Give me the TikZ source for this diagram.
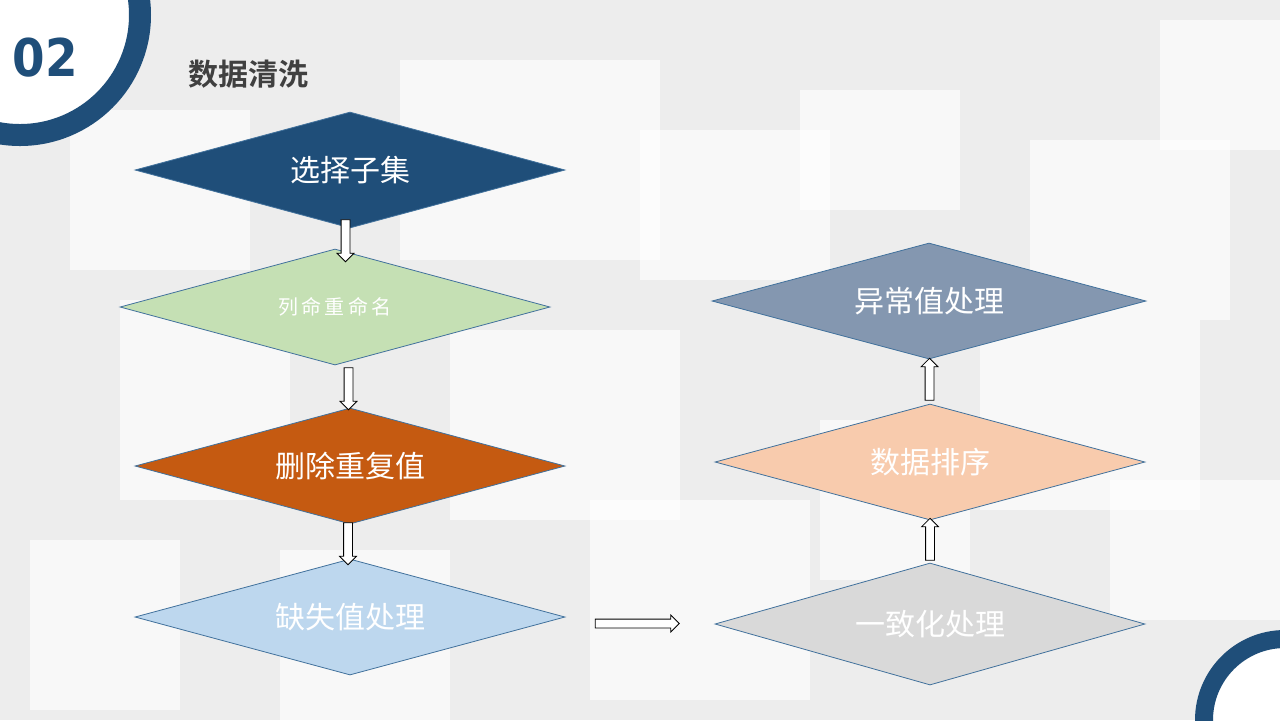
\documentclass[tikz,border=0pt]{standalone}
\usepackage{fontspec}
\newfontfamily\cjk[BoldFont={* Bold}]{Noto Sans CJK SC}
\newfontfamily\numfont{DejaVu Sans Condensed}
\usetikzlibrary{shapes.geometric,shapes.arrows,calc}

\definecolor{navy}{HTML}{1F4E79}
\definecolor{leaf}{HTML}{C5E0B4}
\definecolor{rust}{HTML}{C55A11}
\definecolor{sky}{HTML}{BDD7EE}
\definecolor{ash}{HTML}{D9D9D9}
\definecolor{peach}{HTML}{F8CBAD}
\definecolor{slate}{HTML}{8497B0}
\definecolor{edge}{HTML}{41719C}

\tikzset{
    stepbox/.style={diamond, aspect=3.7, draw=edge, line width=.4pt, inner sep=0pt,
        minimum width=215pt, minimum height=58pt, text=white,
        font=\cjk\fontsize{15}{18}\selectfont},
    blockarr/.style={single arrow, draw=black, fill=white, line width=.4pt,
        minimum height=21pt, single arrow head extend=2pt,
        inner sep=2pt},
}

\begin{document}
\begin{tikzpicture}[x=0.5pt,y=-0.5pt]

    \useasboundingbox (0,0) rectangle (1280,720);
    \clip (0,0) rectangle (1280,720);
    \fill[gray!14] (0,0) rectangle (1280,720);

    % background tiles
    \foreach \x/\y/\w/\h in {70/110/180/160, 400/60/260/200, 640/130/190/150,
        800/90/160/120, 1030/140/200/180, 120/300/170/200, 450/330/230/190,
        590/500/220/200, 980/320/220/190, 30/540/150/170, 1160/20/120/130,
        280/550/170/170, 820/420/150/160, 1110/480/170/140} {
        \fill[white,opacity=.65] (\x,\y) rectangle ++(\w,\h);
    }

    % corner rings
    \fill[white] (20,15) circle (120);
    \draw[navy,line width=11pt] (20,15) circle (120);
    \fill[white] (1285,720) circle (81);
    \draw[navy,line width=9pt] (1285,720) circle (81);

    \node[text=navy,font=\numfont\bfseries\fontsize{26}{28}\selectfont] (num) at (45,58) {02};
    \node[text=black!75,font=\cjk\bfseries\fontsize{15}{18}\selectfont] (title) at (248,74) {数据清洗};

    % left column
    \node[stepbox, fill=navy] (subset) at (350,170) {选择子集};
    \node[stepbox, fill=leaf, font=\cjk\fontsize{10}{12}\selectfont] (rename) at (335,307) {列\,命\,重\,命\,名};
    \node[stepbox, fill=rust] (dedup) at (350,466) {删除重复值};
    \node[stepbox, fill=sky] (missing) at (350,617) {缺失值处理};

    % right column
    \node[stepbox, fill=ash, minimum height=61pt] (unify) at (930,624) {一致化处理};
    \node[stepbox, fill=peach] (sorting) at (930,462) {数据排序};
    \node[stepbox, fill=slate, minimum width=217pt] (outlier) at (929,301) {异常值处理};

    % block arrows
    \node[blockarr, rotate=-90] (a1) at ($(subset.south)!.5!(rename.north)+(3,0)$) {};
    \node[blockarr, rotate=-90] (a2) at ($(rename.south)!.5!(dedup.north)+(6,0)$) {};
    \node[blockarr, rotate=-90] (a3) at ($(dedup.south)!.5!(missing.north)+(-2,0)$) {};
    \node[blockarr, minimum height=42pt] (a4) at ($(missing.east)!.5!(unify.west)+(-5,3)$) {};
    \node[blockarr, rotate=90] (a5) at ($(unify.north)!.5!(sorting.south)$) {};
    \node[blockarr, rotate=90] (a6) at ($(sorting.north)!.5!(outlier.south)$) {};

\end{tikzpicture}
\end{document}
